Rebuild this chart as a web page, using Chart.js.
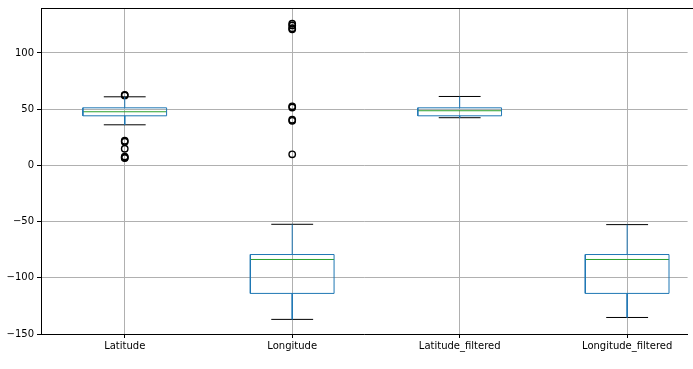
<!DOCTYPE html>
<html>
<head>
<meta charset="utf-8">
<script src="https://cdn.jsdelivr.net/npm/chart.js@4/dist/chart.umd.min.js"></script>
<style>
  html, body { margin: 0; padding: 0; background: #fff; overflow: hidden; }
  #wrap { width: 693px; height: 369px; }
</style>
</head>
<body>
<div id="wrap"><canvas id="boxChart"></canvas></div>
<script>
// columns of the dataframe
const labels = ['Latitude', 'Longitude', 'Latitude_filtered', 'Longitude_filtered'];
// box stats
const whiskerLow  = [36.1, -137.0, 42.4, -135.3];
const q1          = [44.1, -113.9, 44.1, -113.9];
const median      = [47.7, -83.7, 48.6, -83.7];
const q3          = [51.2, -79.3, 51.2, -79.3];
const whiskerHigh = [61.0, -52.4, 61.3, -52.7];
// fliers per column
const fliers = [
    [62.8, 62.2, 22.0, 21.0, 14.8, 7.8, 7.0, 6.5],
    [126.0, 124.5, 122.0, 121.0, 52.5, 51.5, 40.6, 39.6, 9.8],
    [],
    []
];
const yTicks = [-150, -100, -50, 0, 50, 100];

const boxHalf = 0.25;
const capHalf = 0.125;

// build line segments separated by gaps
function segs(fn) {
    const out = [];
    labels.forEach((_, i) => {
        fn(i + 1, i).forEach(p => out.push(p));
        out.push({ x: i + 1, y: null });
    });
    return out;
}

const boxPts = segs((x, i) => [
    { x: x - boxHalf, y: q1[i] }, { x: x + boxHalf, y: q1[i] },
    { x: x + boxHalf, y: q3[i] }, { x: x - boxHalf, y: q3[i] },
    { x: x - boxHalf, y: q1[i] }
]);
const whiskerPts = segs((x, i) => [
    { x: x, y: q3[i] }, { x: x, y: whiskerHigh[i] }, { x: x, y: null },
    { x: x, y: q1[i] }, { x: x, y: whiskerLow[i] }
]);
const capPts = segs((x, i) => [
    { x: x - capHalf, y: whiskerHigh[i] }, { x: x + capHalf, y: whiskerHigh[i] }, { x: x, y: null },
    { x: x - capHalf, y: whiskerLow[i] }, { x: x + capHalf, y: whiskerLow[i] }
]);
const medianPts = segs((x, i) => [
    { x: x - boxHalf, y: median[i] }, { x: x + boxHalf, y: median[i] }
]);
const flierPts = [];
fliers.forEach((arr, i) => arr.forEach(v => flierPts.push({ x: i + 1, y: v })));

const lineDs = (data, color) => ({
    type: 'line', data: data, borderColor: color, borderWidth: 1,
    pointRadius: 0, fill: false, spanGaps: false, tension: 0
});

// top spine (right edge of the figure is cut off)
const frame = {
    id: 'frame',
    afterDraw(chart) {
        const a = chart.chartArea, c = chart.ctx;
        c.save();
        c.strokeStyle = '#000';
        c.lineWidth = 1;
        c.beginPath();
        c.moveTo(a.left, a.top + 0.5);
        c.lineTo(chart.width, a.top + 0.5);
        c.stroke();
        c.restore();
    }
};

Chart.defaults.font.family = 'DejaVu Sans';
Chart.defaults.font.size = 10;
Chart.defaults.color = '#000';

new Chart(document.getElementById('boxChart'), {
    type: 'scatter',
    data: {
        datasets: [
            lineDs(whiskerPts, '#1f77b4'),
            lineDs(boxPts, '#1f77b4'),
            lineDs(capPts, '#000000'),
            lineDs(medianPts, '#2ca02c'),
            {
                type: 'scatter', data: flierPts,
                pointRadius: 3.2, pointBorderWidth: 1.4,
                borderColor: '#000', backgroundColor: 'rgba(0,0,0,0)'
            }
        ]
    },
    options: {
        responsive: true,
        maintainAspectRatio: false,
        animation: false,
        layout: { padding: { left: 0, top: 8, right: 0, bottom: 0 } },
        plugins: { legend: { display: false }, tooltip: { enabled: false } },
        scales: {
            x: {
                type: 'linear', min: 0.5, max: 4.361,
                afterBuildTicks: s => { s.ticks = labels.map((_, i) => ({ value: i + 1 })); },
                afterFit: s => { s.height = 35; s.paddingLeft = 0; s.paddingRight = 0; },
                ticks: {
                    callback: v => labels[v - 1],
                    padding: 2, maxRotation: 0
                },
                grid: { color: '#b0b0b0', tickColor: '#000', tickLength: 4 },
                border: { color: '#000' }
            },
            y: {
                min: -150, max: 140,
                afterBuildTicks: s => { s.ticks = yTicks.map(v => ({ value: v })); },
                afterFit: s => { s.width = 41; s.paddingTop = 0; s.paddingBottom = 0; },
                ticks: {
                    callback: v => v < 0 ? '\u2212' + Math.abs(v) : v,
                    padding: 3
                },
                grid: { color: '#b0b0b0', tickColor: '#000', tickLength: 4 },
                border: { color: '#000' }
            }
        }
    },
    plugins: [frame]
});
</script>
</body>
</html>
